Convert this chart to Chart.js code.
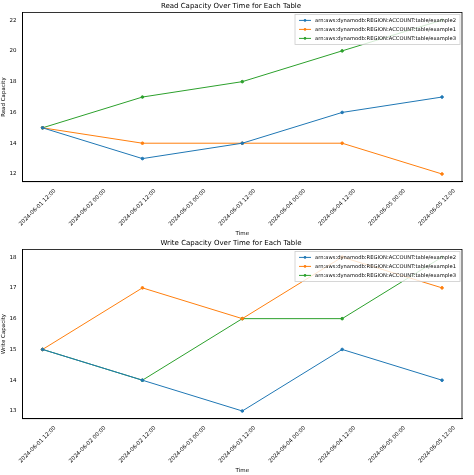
<!DOCTYPE html>
<html>
<head>
<script src="https://cdn.jsdelivr.net/npm/chart.js@4"></script>
<style>
  body { margin: 0; background: #fff; }
  .box { position: relative; width: 474px; height: 237px; }
</style>
</head>
<body>
<div class="box"><canvas id="leitura"></canvas></div>
<div class="box"><canvas id="escrita"></canvas></div>
<script>
// hours since 2024-06-01 00:00
const horas = [9, 33, 57, 81, 105];
const nomes = [
    "arn:aws:dynamodb:REGION:ACCOUNT:table/example2",
    "arn:aws:dynamodb:REGION:ACCOUNT:table/example1",
    "arn:aws:dynamodb:REGION:ACCOUNT:table/example3"
];
const cores = ["#1f77b4", "#ff7f0e", "#2ca02c"];
const leitura = [
    [15, 13, 14, 16, 17],
    [15, 14, 14, 14, 12],
    [15, 17, 18, 20, 22]
];
const escrita = [
    [15, 14, 13, 15, 14],
    [15, 17, 16, 18, 17],
    [15, 14, 16, 16, 18]
];
const tickHoras = [12, 24, 36, 48, 60, 72, 84, 96, 108];
const tickLabels = ["2024-06-01 12:00", "2024-06-02 00:00", "2024-06-02 12:00", "2024-06-03 00:00",
    "2024-06-03 12:00", "2024-06-04 00:00", "2024-06-04 12:00", "2024-06-05 00:00", "2024-06-05 12:00"];

const legendaDentro = {
    id: 'legendaDentro',
    afterDraw(chart) {
        const ctx = chart.ctx, a = chart.chartArea;
        ctx.save();
        // moldura completa
        ctx.strokeStyle = '#000';
        ctx.lineWidth = 0.8;
        ctx.strokeRect(a.left, a.top, a.right - a.left, a.bottom - a.top);
        ctx.font = '5.2px "DejaVu Sans"';
        let maxW = 0;
        chart.data.datasets.forEach(ds => { maxW = Math.max(maxW, ctx.measureText(ds.label).width); });
        const w = maxW + 24, h = 30, x = a.right - w - 2, y = a.top + 2;
        ctx.fillStyle = 'rgba(255,255,255,0.8)';
        ctx.strokeStyle = '#ccc';
        ctx.fillRect(x, y, w, h);
        ctx.strokeRect(x, y, w, h);
        ctx.textBaseline = 'middle';
        chart.data.datasets.forEach((ds, i) => {
            const yy = y + 6 + i * 9;
            ctx.strokeStyle = ds.borderColor;
            ctx.lineWidth = 1;
            ctx.beginPath(); ctx.moveTo(x + 4, yy); ctx.lineTo(x + 16, yy); ctx.stroke();
            ctx.fillStyle = ds.borderColor;
            ctx.beginPath(); ctx.arc(x + 10, yy, 1.3, 0, Math.PI * 2); ctx.fill();
            ctx.fillStyle = '#000';
            ctx.fillText(ds.label, x + 20, yy);
        });
        ctx.restore();
    }
};

function desenhar(id, series, titulo, rotuloY, yMin, yMax, passo) {
    new Chart(document.getElementById(id), {
        type: 'line',
        data: {
            datasets: series.map((vals, i) => ({
                label: nomes[i],
                data: vals.map((v, j) => ({ x: horas[j], y: v })),
                borderColor: cores[i],
                backgroundColor: cores[i],
                borderWidth: 1,
                pointRadius: 1.3,
                fill: false
            }))
        },
        options: {
            responsive: true,
            maintainAspectRatio: false,
            animation: false,
            layout: { padding: { right: 12, top: 0 } },
            plugins: {
                legend: { display: false },
                tooltip: { enabled: false },
                title: { display: true, text: titulo, color: '#000', font: { size: 7, family: 'DejaVu Sans', weight: 'normal' }, padding: { top: 2, bottom: 2 } }
            },
            scales: {
                x: {
                    type: 'linear', min: 4.2, max: 109.8,
                    afterBuildTicks: ax => { ax.ticks = tickHoras.map(v => ({ value: v })); },
                    ticks: { callback: (v) => tickLabels[tickHoras.indexOf(v)], maxRotation: 45, minRotation: 45, font: { size: 5.5, family: 'DejaVu Sans' }, color: '#000' },
                    grid: { display: false, drawTicks: true, tickLength: 3 },
                    border: { color: '#000' },
                    title: { display: true, text: 'Time', font: { size: 5.5, family: 'DejaVu Sans' }, color: '#000', padding: 0 }
                },
                y: {
                    min: yMin, max: yMax,
                    afterBuildTicks: ax => {
                        const t = [];
                        for (let v = Math.ceil(yMin / passo) * passo; v <= yMax; v += passo) t.push({ value: v });
                        ax.ticks = t;
                    },
                    ticks: { font: { size: 5.5, family: 'DejaVu Sans' }, color: '#000' },
                    grid: { display: false, tickLength: 3 },
                    border: { color: '#000' },
                    title: { display: true, text: rotuloY, font: { size: 5.5, family: 'DejaVu Sans' }, color: '#000', padding: 0 }
                }
            }
        },
        plugins: [legendaDentro]
    });
}

desenhar('leitura', leitura, 'Read Capacity Over Time for Each Table', 'Read Capacity', 11.5, 22.5, 2);
desenhar('escrita', escrita, 'Write Capacity Over Time for Each Table', 'Write Capacity', 12.75, 18.25, 1);
</script>
</body>
</html>
